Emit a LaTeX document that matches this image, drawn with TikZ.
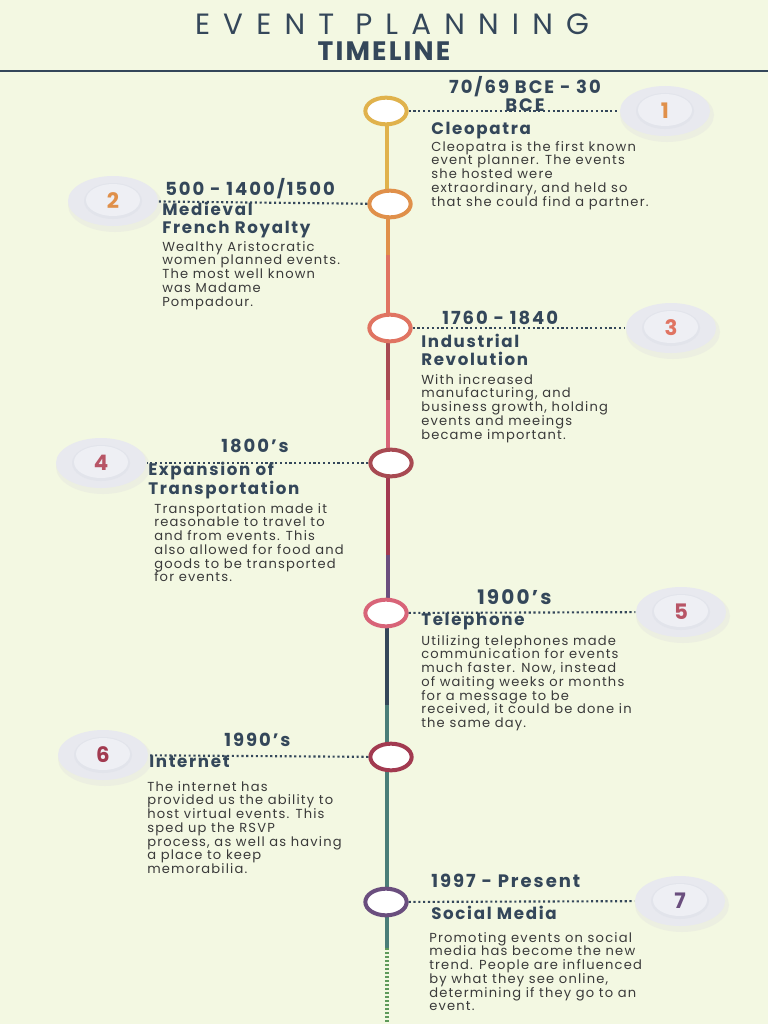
\documentclass[tikz,border=0pt]{standalone}
\usepackage{fontspec}
\setmainfont{Poppins}
\usetikzlibrary{shapes.geometric}
\definecolor{bg}{HTML}{F3F8E2}
\definecolor{navy}{HTML}{34475A}
\definecolor{body}{HTML}{3A3A3A}
\definecolor{cA}{HTML}{E0B24C}
\definecolor{cB}{HTML}{E0904A}
\definecolor{cC}{HTML}{E07462}
\definecolor{cD}{HTML}{A84A52}
\definecolor{cE}{HTML}{D86478}
\definecolor{cF}{HTML}{A23A50}
\definecolor{cG}{HTML}{6A4E7E}
\definecolor{teal}{HTML}{4A7E78}
\definecolor{grn}{HTML}{5E9A5A}
\tikzset{
 x=0.75pt,y=-0.75pt,
 ring/.style={ellipse,draw=#1,line width=3pt,fill=white,minimum width=31pt,minimum height=20pt,inner sep=0pt},
 num/.style={ellipse,minimum width=68pt,minimum height=38pt,inner sep=0pt,font=\bfseries\fontsize{16}{16}\selectfont,text=#1},
 date/.style={font=\bfseries\fontsize{13.5}{14}\selectfont\addfontfeatures{LetterSpace=11},text=navy,inner sep=0pt,align=center},
 ttl/.style={font=\bfseries\fontsize{12.5}{13.2}\selectfont\addfontfeatures{LetterSpace=10},text=navy,inner sep=0pt,align=left,anchor=north west},
 txt/.style={font=\fontsize{9.8}{10.3}\selectfont\addfontfeatures{LetterSpace=9},text=body,inner sep=0pt,align=left,anchor=north west},
 dots/.style={navy,dotted,line width=1.6pt},
 seg/.style={line width=3pt,#1}
}
\newcommand{\mybadge}[5]{%
 \fill[black!12,opacity=0.35] (#1+2,#2+4) ellipse (47 and 27);
 \fill[color={rgb,255:red,232;green,233;blue,239}] (#1,#2) ellipse (45 and 25);
 \fill[color={rgb,255:red,226;green,228;blue,235}] (#1,#2) ellipse (29 and 18);
 \fill[color={rgb,255:red,238;green,239;blue,244}] (#1,#2-1) ellipse (27 and 16);
 \node[num=#4] (#3) at (#1,#2) {#5};}
\begin{document}
\begin{tikzpicture}
\useasboundingbox (0,0) rectangle (768,1024);
\fill[bg] (0,0) rectangle (768,1024);
% header
\node[text=navy,font=\fontsize{22}{24}\selectfont\addfontfeatures{LetterSpace=45}] (title) at (392,24) {EVENT PLANNING};
\node[text=navy,font=\fontsize{20}{22}\selectfont\bfseries\addfontfeatures{LetterSpace=8}] (sub) at (384,51) {TIMELINE};
\draw[navy,line width=2pt] (0,71) -- (768,71);
% spine segments
\draw[seg=cA] (387,111) -- (387,190);
\draw[seg=cB] (388,190) -- (388,255);
\draw[seg=cC] (388,255) -- (388,335);
\draw[seg=cD] (388,335) -- (388,400);
\draw[seg=cE] (388,400) -- (388,450);
\draw[seg=cF] (388,450) -- (388,555);
\draw[seg=cG] (388,555) -- (388,605);
\draw[seg=navy] (387,613) -- (387,705);
\draw[seg=teal] (387,705) -- (387,948);
\draw[grn,line width=3pt,dash pattern=on 1.5pt off 1.5pt] (387,948) -- (387,1024);
% badges
\mybadge{665}{111}{b1}{cB}{1}
\mybadge{113}{201}{b2}{cB}{2}
\mybadge{671}{328}{b3}{cC}{3}
\mybadge{101}{463}{b4}{cE!85!black}{4}
\mybadge{681}{612}{b5}{cE!85!black}{5}
\mybadge{103}{755}{b6}{cF}{6}
\mybadge{680}{901}{b7}{cG}{7}
% rings
\node[ring=cA] (r1) at (386,111) {};
\node[ring=cB] (r2) at (390,204) {};
\node[ring=cC] (r3) at (390,328) {};
\node[ring=cD] (r4) at (391,463) {};
\node[ring=cE] (r5) at (386,613) {};
\node[ring=cF] (r6) at (391,757) {};
\node[ring=cG] (r7) at (386,902) {};
% dotted connectors
\draw[dots] (r1) -- (b1);
\draw[dots] (r2) -- (b2);
\draw[dots] (r3) -- (b3);
\draw[dots] (r4) -- (b4);
\draw[dots] (r5) -- (b5);
\draw[dots] (r6) -- (b6);
\draw[dots] (r7) -- (b7);
% 1
\node[date] (d1) at (525,94) {70/69 BCE - 30\\BCE};
\node[ttl] (t1) at (431,122) {Cleopatra};
\node[txt] (x1) at (431,141) {Cleopatra is the first known\\event planner. The events\\she hosted were\\extraordinary, and held so\\that she could find a partner.};
% 2
\node[date,anchor=west] (d2) at (165,189) {500 - 1400/1500};
\node[ttl] (t2) at (162,202) {Medieval\\French Royalty};
\node[txt] (x2) at (162,241) {Wealthy Aristocratic\\women planned events.\\The most well known\\was Madame\\Pompadour.};
% 3
\node[date,anchor=west] (d3) at (442,318) {1760 - 1840};
\node[ttl] (t3) at (421,334) {Industrial\\Revolution};
\node[txt] (x3) at (421,374) {With increased\\manufacturing, and\\business growth, holding\\events and meeings\\became important.};
% 4
\node[date,anchor=west] (d4) at (221,446) {1800's};
\node[ttl] (t4) at (148,462) {Expansion of\\Transportation};
\node[txt] (x4) at (154,503) {Transportation made it\\reasonable to travel to\\and from events. This\\also allowed for food and\\goods to be transported\\for events.};
% 5
\node[date,anchor=west,font=\bfseries\fontsize{15}{16}\selectfont\addfontfeatures{LetterSpace=11}] (d5) at (477,597) {1900's};
\node[ttl] (t5) at (421,613) {Telephone};
\node[txt] (x5) at (421,635) {Utilizing telephones made\\communication for events\\much faster. Now, instead\\of waiting weeks or months\\for a message to be\\received, it could be done in\\the same day.};
% 6
\node[date,anchor=west] (d6) at (224,740) {1990's};
\node[ttl] (t6) at (149,756) {Internet};
\node[txt] (x6) at (147,781) {The internet has\\provided us the ability to\\host virtual events. This\\sped up the RSVP\\process, as well as having\\a place to keep\\memorabilia.};
% 7
\node[date,anchor=west] (d7) at (431,881) {1997 - Present};
\node[ttl] (t7) at (431,906) {Social Media};
\node[txt] (x7) at (429,932) {Promoting events on social\\media has become the new\\trend. People are influenced\\by what they see online,\\determining if they go to an\\event.};
\end{tikzpicture}
\end{document}
